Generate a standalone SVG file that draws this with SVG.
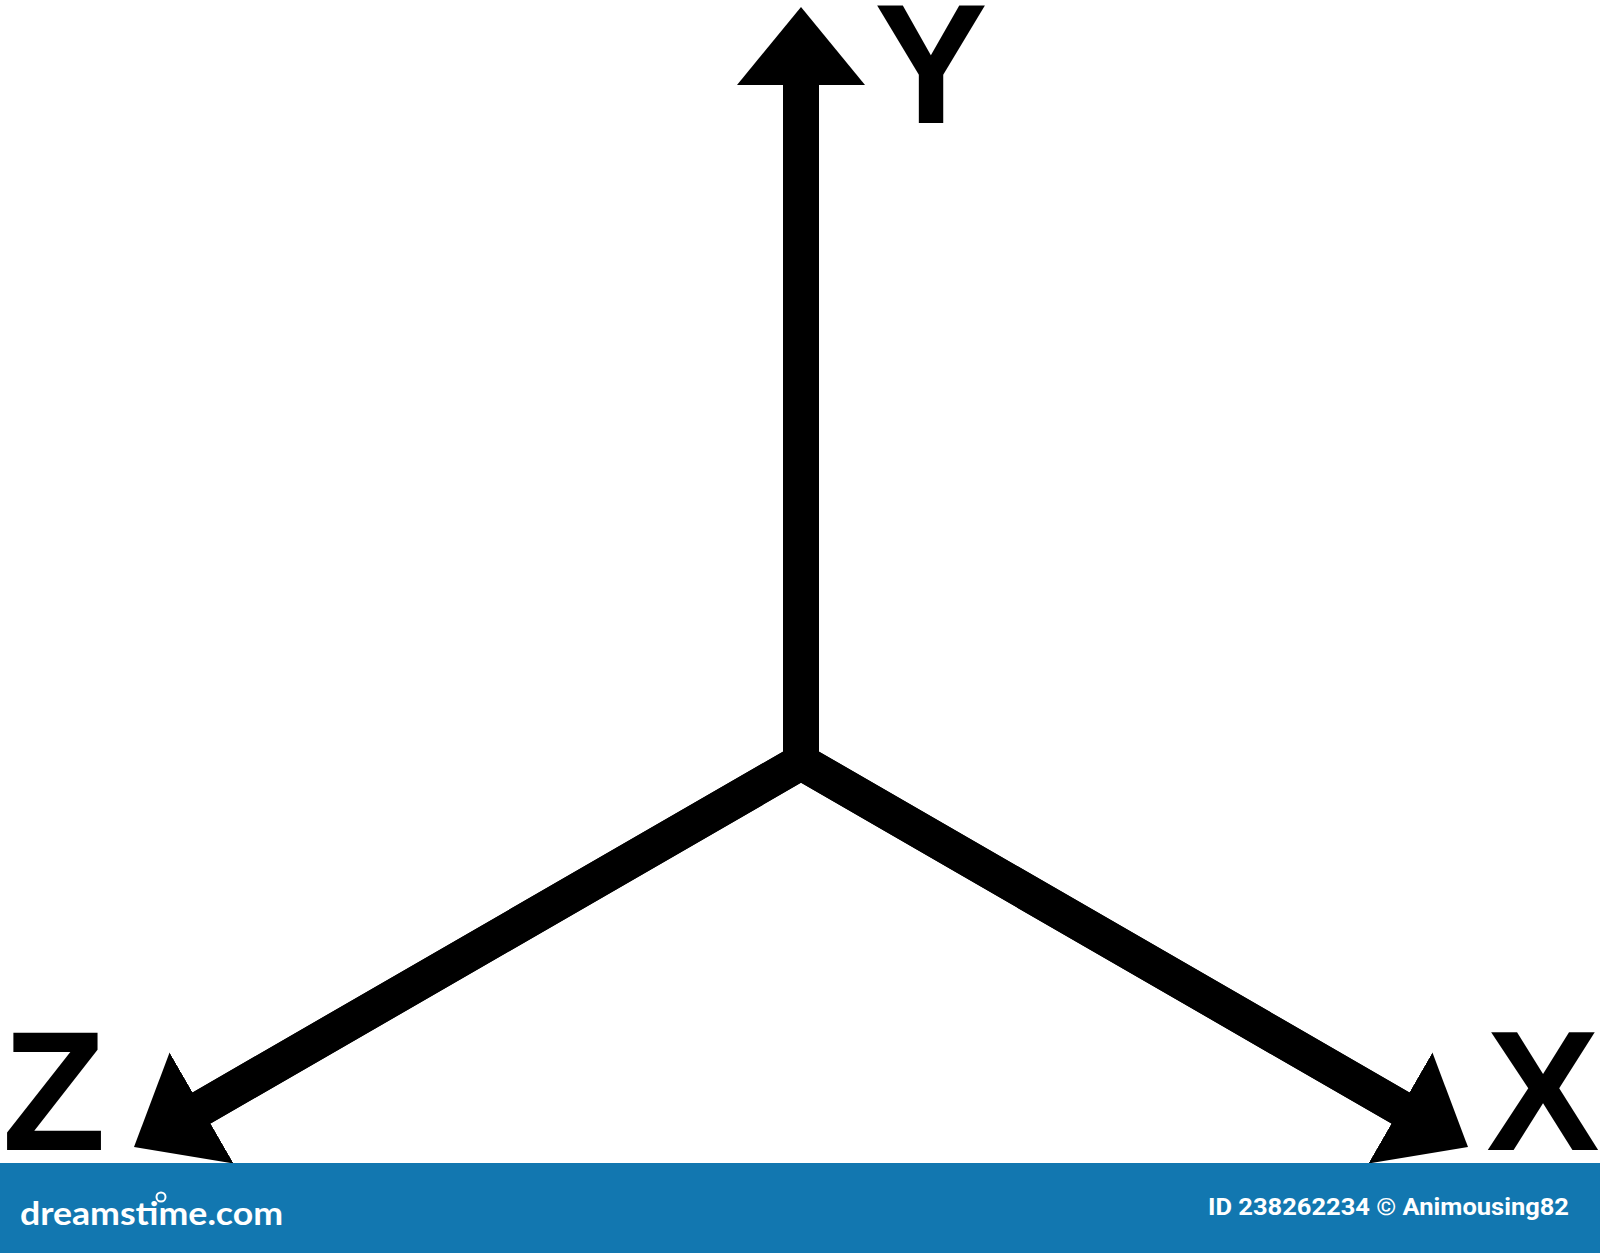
<svg xmlns="http://www.w3.org/2000/svg" width="1600" height="1253" viewBox="0 0 1600 1253">
<style>
.axis{fill:none;stroke:#000;stroke-width:36;stroke-linejoin:miter;stroke-linecap:butt}
.lbl{font-family:"Liberation Sans",Arial,sans-serif;font-weight:700;font-size:170px;fill:#000;text-anchor:middle}
.ban{fill:#fff}
</style>
<defs>
<marker id="ah" markerUnits="userSpaceOnUse" markerWidth="82" markerHeight="132" viewBox="0 -66 82 132" refX="4" refY="0" orient="auto">
<path d="M0,-64 L78,0 L0,64 Z" fill="#000"/>
</marker>
</defs>
<rect width="1600" height="1253" fill="#fff"/>
<g id="connectors">
<path class="axis" d="M801,762 V81" marker-end="url(#ah)"/>
<path class="axis" d="M801,762 L1403.9,1110" marker-end="url(#ah)"/>
<path class="axis" d="M801,762 L198.1,1110" marker-end="url(#ah)"/>
<path class="axis" d="M198.1,1110 L801,762 L1403.9,1110"/>
</g>
<g id="label-y"><text class="lbl" x="931" y="123">Y</text></g>
<g id="label-z"><text class="lbl" x="54" y="1150">Z</text></g>
<g id="label-x"><text class="lbl" x="1543" y="1150">X</text></g>
<g id="banner">
<rect x="0" y="1163" width="1600" height="90" fill="#1277b0"/>
<text class="ban" x="20" y="1225" font-family="Lato,'Open Sans',sans-serif" font-weight="700" font-size="33" textLength="263" lengthAdjust="spacingAndGlyphs">dreamstime.com</text>
<circle cx="161" cy="1197" r="4.5" fill="none" stroke="#fff" stroke-width="2"/>
<text class="ban" x="1208" y="1215" font-family="Roboto,sans-serif" font-weight="700" font-size="23" textLength="361" lengthAdjust="spacingAndGlyphs">ID 238262234 © Animousing82</text>
</g>
</svg>
